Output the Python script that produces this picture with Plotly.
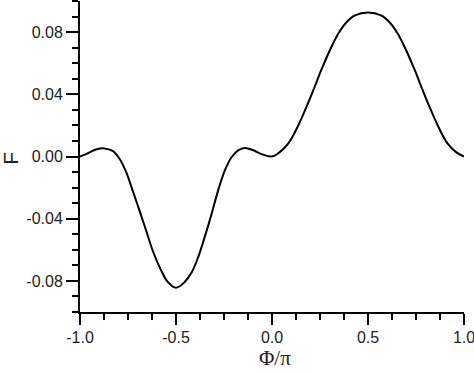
import plotly.graph_objects as go

phi = [-1.0, -0.969, -0.917, -0.873, -0.830, -0.795, -0.760, -0.726, -0.691, -0.656,
       -0.622, -0.578, -0.543, -0.5, -0.457, -0.418, -0.384, -0.349,
       -0.314, -0.280, -0.245, -0.210, -0.176, -0.141, -0.097, -0.054, 0.0, 0.042,
       0.085, 0.129, 0.172, 0.215, 0.259, 0.302, 0.345, 0.389, 0.432,
       0.5, 0.568, 0.611, 0.655, 0.698, 0.741, 0.785, 0.828, 0.871,
       0.914, 0.957, 1.0]
F = [0.0, 0.0015, 0.0045, 0.0052, 0.0036, -0.0013, -0.0099, -0.0218, -0.0345, -0.0474,
     -0.0603, -0.0731, -0.0806, -0.0844, -0.0810, -0.0745, -0.0645, -0.0512,
     -0.0366, -0.0216, -0.0088, -0.0003, 0.0040, 0.0055, 0.0040, 0.0015, 0.0, 0.0030,
     0.0084, 0.0180, 0.0298, 0.0426, 0.0563, 0.0685, 0.0790, 0.0865, 0.0908,
     0.0926, 0.0908, 0.0865, 0.0790, 0.0685, 0.0563, 0.0426, 0.0298, 0.0180,
     0.0084, 0.0030, 0.0]

x_tickvals = [-1.0, -0.5, 0.0, 0.5, 1.0]
x_ticktext = ["-1.0", "-0.5", "0.0", "0.5", "1.0"]
y_tickvals = [-0.08, -0.04, 0.0, 0.04, 0.08]
y_ticktext = ["-0.08", "-0.04", "0.00", "0.04", "0.08"]
x_title = "Φ/π"
y_title = "F"

fig = go.Figure()
fig.add_trace(go.Scatter(x=phi, y=F, mode="lines",
                         line=dict(color="black", width=2, shape="spline", smoothing=1.0),
                         showlegend=False, hoverinfo="skip", cliponaxis=False))

tickfont = dict(family="Liberation Sans, Arial, sans-serif", size=16, color="#222")
fig.update_layout(
    width=474, height=372,
    margin=dict(l=80, r=10, t=1, b=60, autoexpand=False),
    paper_bgcolor="white", plot_bgcolor="white",
    xaxis=dict(range=[-1.0, 1.0], showgrid=False, zeroline=False, automargin=False,
               showline=True, linecolor="black", linewidth=2,
               ticks="outside", ticklen=11, tickwidth=2, tickcolor="black",
               tickmode="array", tickvals=x_tickvals, ticktext=x_ticktext,
               tickfont=tickfont, ticklabelstandoff=-1, ticklabeloverflow="allow",
               minor=dict(ticks="outside", ticklen=6, tickwidth=2, tickcolor="black",
                          tickmode="linear", tick0=-1.0, dtick=0.125, showgrid=False)),
    yaxis=dict(range=[-0.1, 0.1], showgrid=False, zeroline=False, automargin=False,
               showline=True, linecolor="black", linewidth=2,
               ticks="outside", ticklen=12, tickwidth=2, tickcolor="black",
               tickmode="array", tickvals=y_tickvals, ticktext=y_ticktext,
               tickfont=tickfont, ticklabelstandoff=0, ticklabeloverflow="allow",
               minor=dict(ticks="outside", ticklen=6, tickwidth=2, tickcolor="black",
                          tickmode="linear", tick0=0.0, dtick=0.01, showgrid=False)),
    annotations=[
        dict(text=x_title, xref="paper", yref="paper", x=0.509, y=-0.19,
             xanchor="center", yanchor="bottom", showarrow=False, borderpad=0,
             font=dict(family="Liberation Serif, Times New Roman, serif", size=21, color="#222")),
        dict(text=y_title, xref="paper", yref="paper", x=-0.183, y=0.495,
             xanchor="center", yanchor="middle", showarrow=False, textangle=-90,
             font=dict(family="Liberation Sans, Arial, sans-serif", size=21, color="#222")),
    ],
)

fig.write_html("out.html", post_script="document.body.style.margin='0';",
               config={"displayModeBar": False})
